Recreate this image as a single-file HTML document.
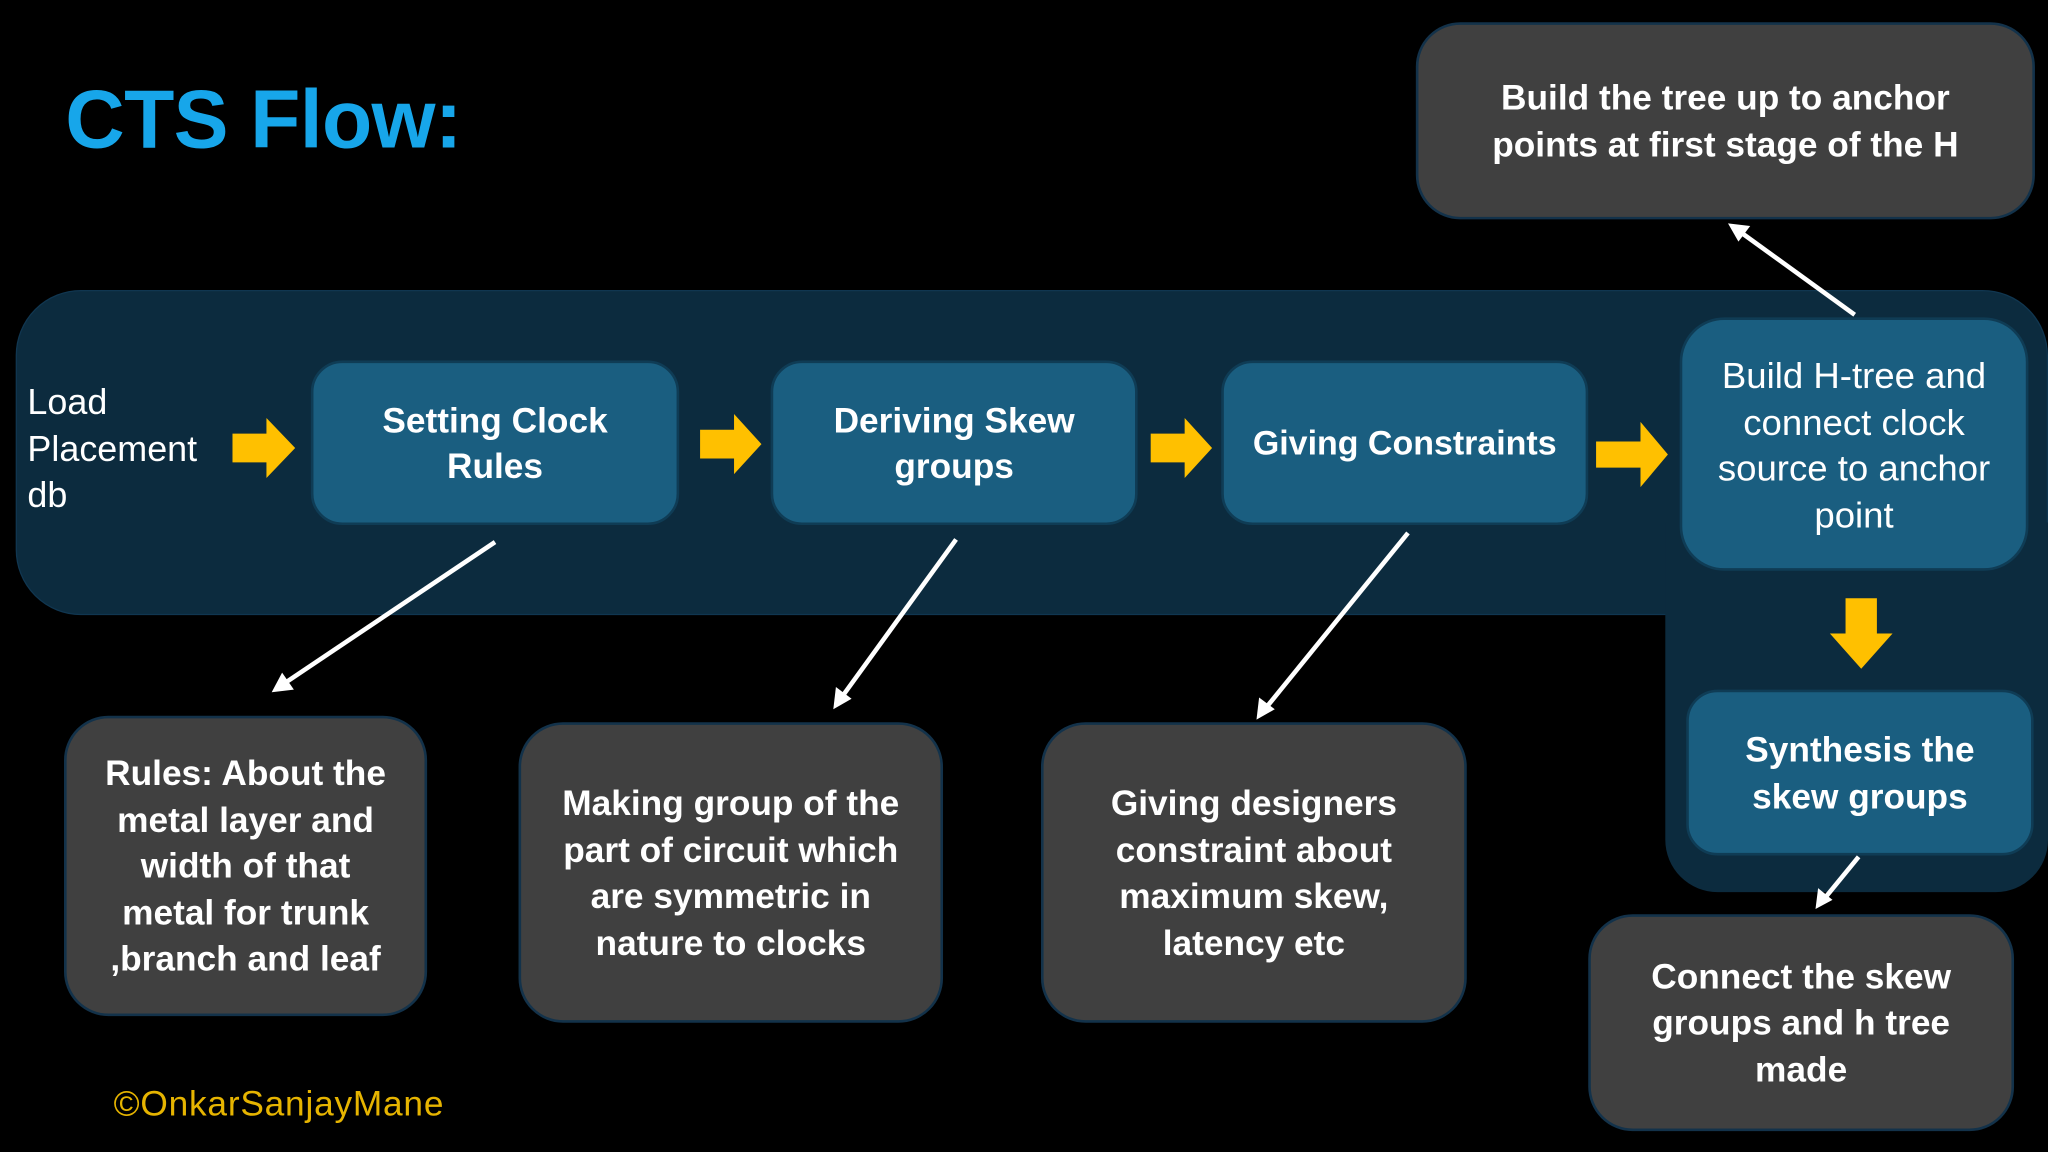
<!DOCTYPE html>
<html><head><meta charset="utf-8"><style>
html,body{margin:0;padding:0;background:#000;}
#w{width:1568px;height:882px;position:relative;transform:scale(1.306122);transform-origin:0 0;overflow:hidden;font-family:"Liberation Sans",sans-serif;}
.a{position:absolute;}
.bx{position:absolute;display:flex;align-items:center;justify-content:center;text-align:center;color:#fff;font-weight:bold;font-size:27px;line-height:35.5px;box-sizing:border-box;padding-top:2px;}
.blue{background:#1a5e80;border:2px solid #0f3c55;border-radius:24px;}
.gray{background:#404040;border:2px solid #13324a;border-radius:34px;}
</style></head><body><div id="w">
<div class="a" style="left:50px;top:56px;color:#17a6ea;font-size:63px;font-weight:bold;letter-spacing:-0.5px">CTS Flow:</div>
<div class="a" style="left:12px;top:222px;width:1556px;height:249px;background:#0c2b3e;border-radius:50px;border:1px solid #103650;box-sizing:border-box"></div>
<div class="a" style="left:1275px;top:400px;width:293px;height:283px;background:#0c2b3e;border-radius:0 0 40px 40px;"></div>
<div class="a" style="left:21px;top:290px;color:#fff;font-size:27.5px;line-height:35.5px">Load<br>Placement<br>db</div>
<div class="bx blue" style="left:238px;top:276px;width:282px;height:126px">Setting Clock<br>Rules</div>
<div class="bx blue" style="left:590px;top:276px;width:281px;height:126px">Deriving Skew<br>groups</div>
<div class="bx blue" style="left:935px;top:276px;width:281px;height:126px;font-size:26px">Giving Constraints</div>
<div class="bx blue" style="left:1286px;top:243px;width:267px;height:194px;font-weight:normal;font-size:28px;border-radius:34px">Build H-tree and<br>connect clock<br>source to anchor<br>point</div>
<div class="bx blue" style="left:1291px;top:528px;width:266px;height:127px">Synthesis the<br>skew groups</div>
<div class="bx gray" style="left:49px;top:548px;width:278px;height:230px">Rules: About the<br>metal layer and<br>width of that<br>metal for trunk<br>,branch and leaf</div>
<div class="bx gray" style="left:397px;top:553px;width:325px;height:230px">Making group of the<br>part of circuit which<br>are symmetric in<br>nature to clocks</div>
<div class="bx gray" style="left:797px;top:553px;width:326px;height:230px">Giving designers<br>constraint about<br>maximum skew,<br>latency etc</div>
<div class="bx gray" style="left:1216px;top:700px;width:326px;height:166px">Connect the skew<br>groups and h tree<br>made</div>
<div class="bx gray" style="left:1084px;top:17px;width:474px;height:151px">Build the tree up to anchor<br>points at first stage of the H</div>
<div class="a" style="left:87px;top:830px;color:#e6b400;font-size:27px;letter-spacing:0.6px">©OnkarSanjayMane</div>
<svg class="a" style="left:0;top:0" width="1568" height="882">
<g fill="#ffc000">
<polygon points="178,332 204,332 204,320 226,343 204,366 204,354 178,354"/>
<polygon points="536,329 562,329 562,317 583,340 562,363 562,351 536,351"/>
<polygon points="881,332 907,332 907,320 928,343 907,366 907,354 881,354"/>
<polygon points="1222,338 1256,338 1256,323 1277,348 1256,373 1256,358 1222,358"/>
<polygon points="1413,458 1437,458 1437,485 1449,485 1425,512 1401,485 1413,485"/>
</g>
<g stroke="#fff" stroke-width="3.5" fill="#fff">
<line x1="379" y1="415" x2="218" y2="523"/><polygon points="208,530 216,515 225,528" stroke="none"/>
<line x1="732" y1="413" x2="645" y2="533"/><polygon points="638,543 640,526 652,535" stroke="none"/>
<line x1="1078" y1="408" x2="970" y2="541"/><polygon points="962,551 964,534 976,543" stroke="none"/>
<line x1="1420" y1="241" x2="1333" y2="178"/><polygon points="1323,171 1340,173 1331,185" stroke="none"/>
<line x1="1423" y1="656" x2="1396" y2="689"/><polygon points="1390,696 1392,680 1403,689" stroke="none"/>
</g>
</svg>
</div></body></html>
